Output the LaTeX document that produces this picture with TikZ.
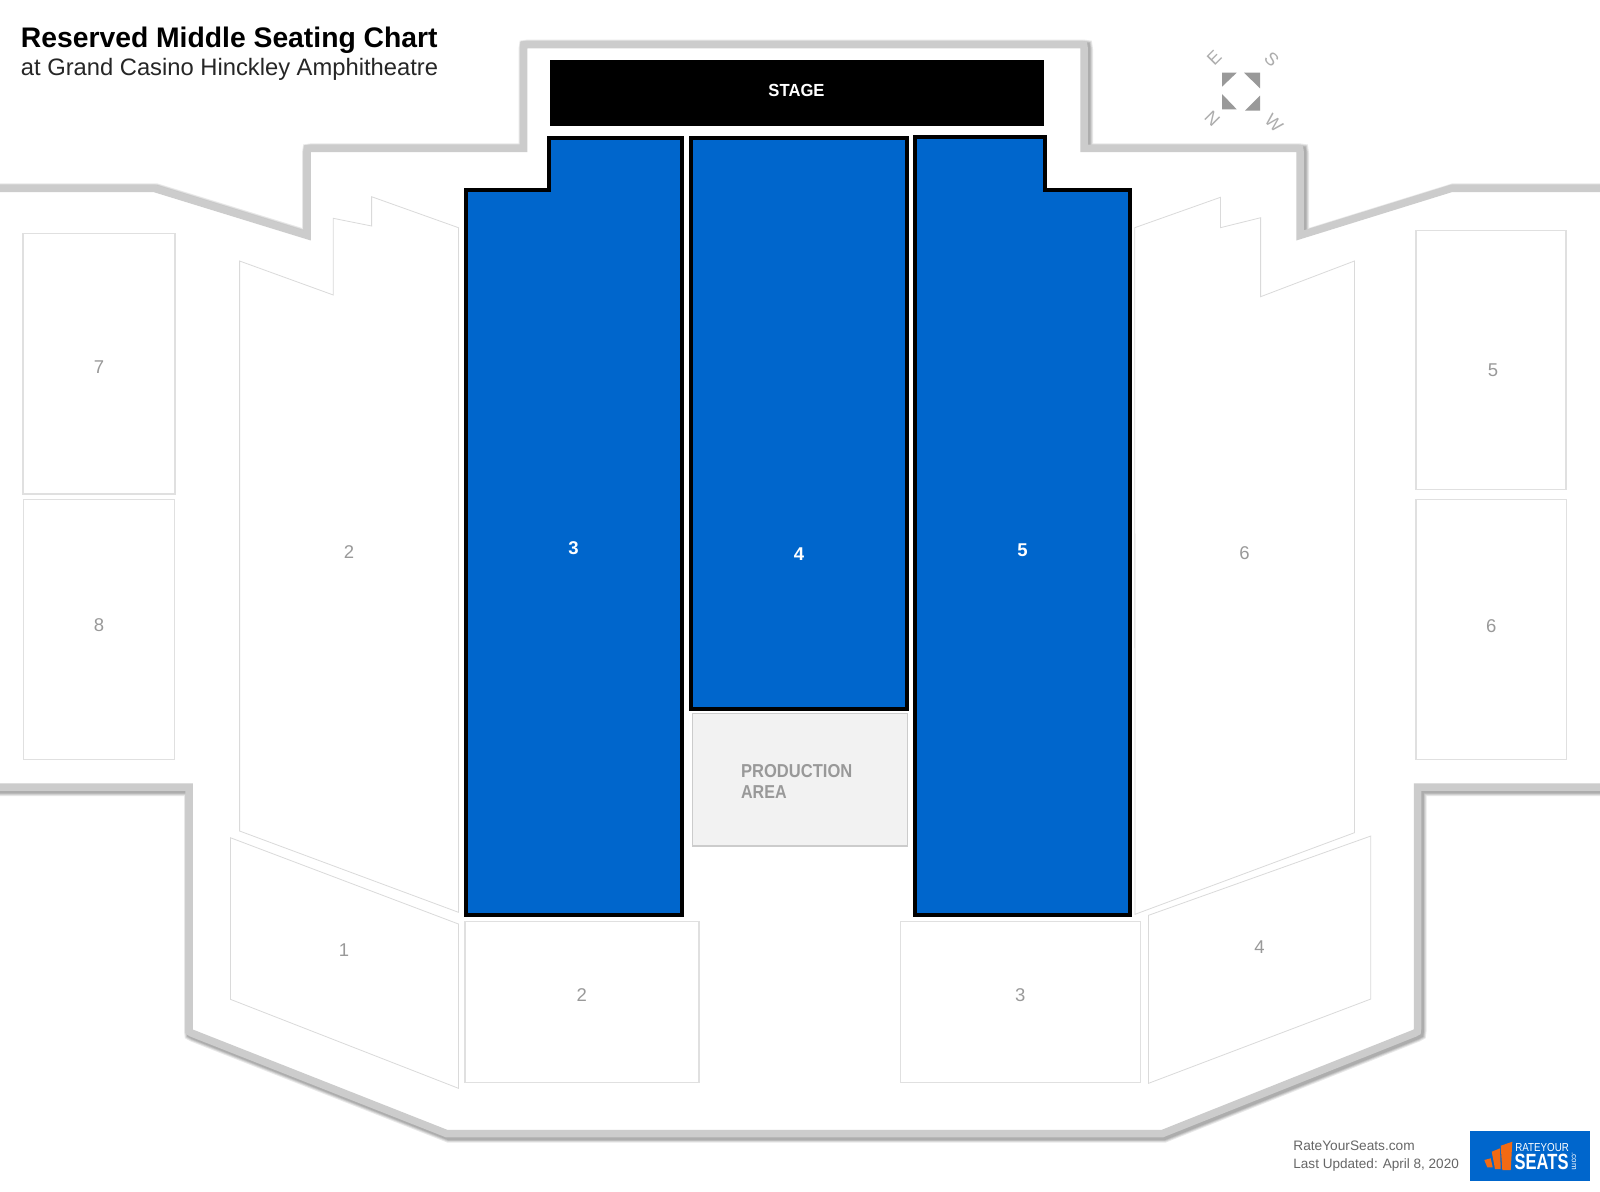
\documentclass[tikz,border=0pt]{standalone}
\usepackage{fontspec}
\usepackage{graphicx}
\setmainfont{Liberation Sans}
\definecolor{wall}{HTML}{CCCCCC}
\definecolor{seat}{HTML}{0066CC}
\definecolor{thin}{HTML}{DADADA}
\definecolor{boxline}{HTML}{E0E0E0}
\definecolor{lab}{HTML}{999999}
\definecolor{prodfill}{HTML}{F2F2F2}
\definecolor{footer}{HTML}{666666}
\definecolor{orangebar}{HTML}{F26A13}
\newcommand{\fpx}[1]{\fontsize{\fpeval{#1/2}}{\fpeval{#1/2}}\selectfont}
\newcommand{\wallshape}{(-30,188.3) -- (154,188.3) -- (307,235.4) -- (307,151.3) .. controls (307,148.3) .. (310,148.3) -- (523.5,148.3) -- (523.5,47.5) .. controls (523.5,44.5) .. (526.5,44.5) -- (1081,44.5) .. controls (1084,44.5) .. (1084,47.5) -- (1084,148.3) -- (1297,148.3) .. controls (1300,148.3) .. (1300,151.3) -- (1300,235.4) -- (1451.6,188.3) -- (1630,188.3) -- (1630,787) -- (1417.5,787) -- (1417.5,1029) .. controls (1417.5,1032) .. (1414.7,1033.1) -- (1162,1133.7) -- (447,1133.7) -- (191.8,1033.1) .. controls (189,1032) .. (189,1029) -- (189,787) -- (-30,787) -- cycle}
\tikzset{
  wallline/.style={draw=wall,line width=3.75pt,miter limit=10,line join=miter},
  shadowline/.style={draw=black,opacity=.09,line join=miter,shift={(1pt,-1pt)}},
  seatblock/.style={fill=seat,draw=black,line width=2pt,line join=miter},
  thinpoly/.style={draw=thin,line width=.4pt,fill=white},
  thinbox/.style={draw=boxline,line width=.75pt,fill=white},
  numlabel/.style={inner sep=0pt,text=lab,font=\fpx{18.5}},
  seatlabel/.style={inner sep=0pt,text=white,font=\bfseries\fpx{18.5}},
  compasstri/.style={fill=lab,draw=none},
  compassletter/.style={inner sep=0pt,text=lab!80,font=\fpx{18}},
}
\begin{document}
\begin{tikzpicture}[x=0.5pt,y=-0.5pt]
\useasboundingbox (0,0) rectangle (1600,1191);
\clip (0,0) rectangle (1600,1191);
\fill[white] (0,0) rectangle (1600,1191);
% shadow, then interior, then wall
\draw[shadowline,line width=7pt] \wallshape;
\draw[shadowline,line width=6pt] \wallshape;
\draw[shadowline,line width=5.2pt] \wallshape;
\draw[shadowline,line width=4.4pt] \wallshape;
\fill[white] \wallshape;
\draw[wallline] \wallshape;
% stage
\fill[black] (550,60) rectangle (1044,126);
\node[inner sep=0pt,anchor=base,text=white,font=\bfseries\fpx{17.5}] (stage) at (796.5,96.7) {\scalebox{.95}[1]{STAGE}};
% side sections
\draw[thinbox] (23,233.3) rectangle (175,494);
\draw[thinbox] (23.3,499.3) rectangle (174.3,759.3);
\draw[thinbox] (1416,230.3) rectangle (1566,489.3);
\draw[thinbox] (1416,499.3) rectangle (1566.7,759.3);
\draw[thinpoly] (239.6,261) -- (333.3,295) -- (333.3,218.3) -- (371.6,226) -- (371.6,196.7) -- (458.5,227.7) -- (458.5,912.3) -- (239.6,831) -- cycle;
\draw[thinpoly] (1134.7,227.7) -- (1220.4,197.3) -- (1220.4,227.7) -- (1260.6,217.7) -- (1260.6,296.7) -- (1354.4,261) -- (1354.4,832.7) -- (1135,914.3) -- cycle;
\draw[thinpoly] (230.4,837.7) -- (458.5,924) -- (458.5,1088.3) -- (230.4,999.3) -- cycle;
\draw[thinpoly] (1148.5,915.3) -- (1370.8,836) -- (1370.8,999) -- (1148.5,1083.3) -- cycle;
\draw[thinbox] (465,921.3) rectangle (698.8,1082.7);
\draw[thinbox] (900.5,921.3) rectangle (1140.5,1082.7);
% highlighted sections
\draw[seatblock] (466.3,189.7) -- (549,189.7) -- (549,138) -- (681.6,138) -- (681.6,915.3) -- (466.3,915.3) -- cycle;
\draw[seatblock] (691.3,138) rectangle (907.3,708.7);
\draw[seatblock] (914.7,137.3) -- (1045,137.3) -- (1045,189.7) -- (1130,189.7) -- (1130,914.7) -- (914.7,914.7) -- cycle;
% production area
\draw[fill=prodfill,draw=wall,line width=.6pt] (692.3,713.3) rectangle (907.7,846);
\node[inner sep=0pt,anchor=base west,text=lab,font=\bfseries\fpx{18.7}] (prod1) at (740.7,777.7) {\scalebox{.885}[1]{PRODUCTION}};
\node[inner sep=0pt,anchor=base west,text=lab,font=\bfseries\fpx{18.7}] (prod2) at (740.7,798.3) {\scalebox{.86}[1]{AREA}};
% labels
\node[numlabel] (l7) at (99,367) {7};
\node[numlabel] (l8) at (99,625) {8};
\node[numlabel] (l2a) at (349,552) {2};
\node[seatlabel] (l3a) at (573.5,548) {3};
\node[seatlabel] (l4a) at (799,554.5) {4};
\node[seatlabel] (l5a) at (1022.5,550) {5};
\node[numlabel] (l6a) at (1244.5,553) {6};
\node[numlabel] (l5b) at (1493,370) {5};
\node[numlabel] (l6b) at (1491.3,625.7) {6};
\node[numlabel] (l1) at (344,950) {1};
\node[numlabel] (l2b) at (581.7,995) {2};
\node[numlabel] (l3b) at (1020.3,995) {3};
\node[numlabel] (l4b) at (1259.5,946.7) {4};
% title
\node[inner sep=0pt,anchor=base west,font=\bfseries\fpx{28.3}] (title) at (20.5,47.7) {Reserved Middle Seating Chart};
\node[inner sep=0pt,anchor=base west,text=black!85,font=\fpx{23.75}] (subtitle) at (20.5,75) {at Grand Casino Hinckley Amphitheatre};
% compass
\fill[compasstri] (1222,72.7) -- (1236.7,72.7) -- (1222,86.7) -- cycle;
\fill[compasstri] (1244,72.7) -- (1260,72.7) -- (1260,88.3) -- cycle;
\fill[compasstri] (1222,94) -- (1222,109.3) -- (1236.7,109.3) -- cycle;
\fill[compasstri] (1260,95.7) -- (1260,110.7) -- (1245,110.7) -- cycle;
\node[compassletter,rotate=45] (ce) at (1214.3,58.3) {E};
\node[compassletter,rotate=-45] (cs) at (1271.7,59.3) {S};
\node[compassletter,rotate=-45] (cn) at (1212.3,118.3) {N};
\node[compassletter,rotate=-45] (cw) at (1274,123.3) {W};
% footer
\node[inner sep=0pt,anchor=base west,text=footer,font=\fpx{13.7}] (f1) at (1293,1150.7) {RateYourSeats.com};
\node[inner sep=0pt,anchor=base west,text=footer,font=\fpx{13.55}] (f2) at (1293,1168) {Last Updated: April 8, 2020};
% logo
\fill[seat] (1470,1131) rectangle (1590,1181);
\fill[orangebar] (1484.3,1160) -- (1490.7,1158.3) -- (1492.7,1167.3) -- (1487.3,1167.3) -- cycle;
\fill[orangebar] (1491.7,1151.7) -- (1500,1148.3) -- (1500.7,1169) -- (1495,1169) -- cycle;
\fill[orangebar] (1500.7,1145.7) -- (1512.3,1141.7) -- (1510.7,1170) -- (1502.3,1170) -- cycle;
\node[inner sep=0pt,anchor=base west,text=white,font=\fpx{11.6}] (lg1) at (1515,1151.7) {\scalebox{.84}[1]{RATEYOUR}};
\node[inner sep=0pt,anchor=base west,text=white,font=\bfseries\fpx{22}] (lg2) at (1514.3,1169.3) {\scalebox{.75}[1]{SEATS}};
\node[inner sep=0pt,rotate=-90,text=white,font=\fpx{8}] (lg3) at (1574,1161) {.com};
\end{tikzpicture}
\end{document}
